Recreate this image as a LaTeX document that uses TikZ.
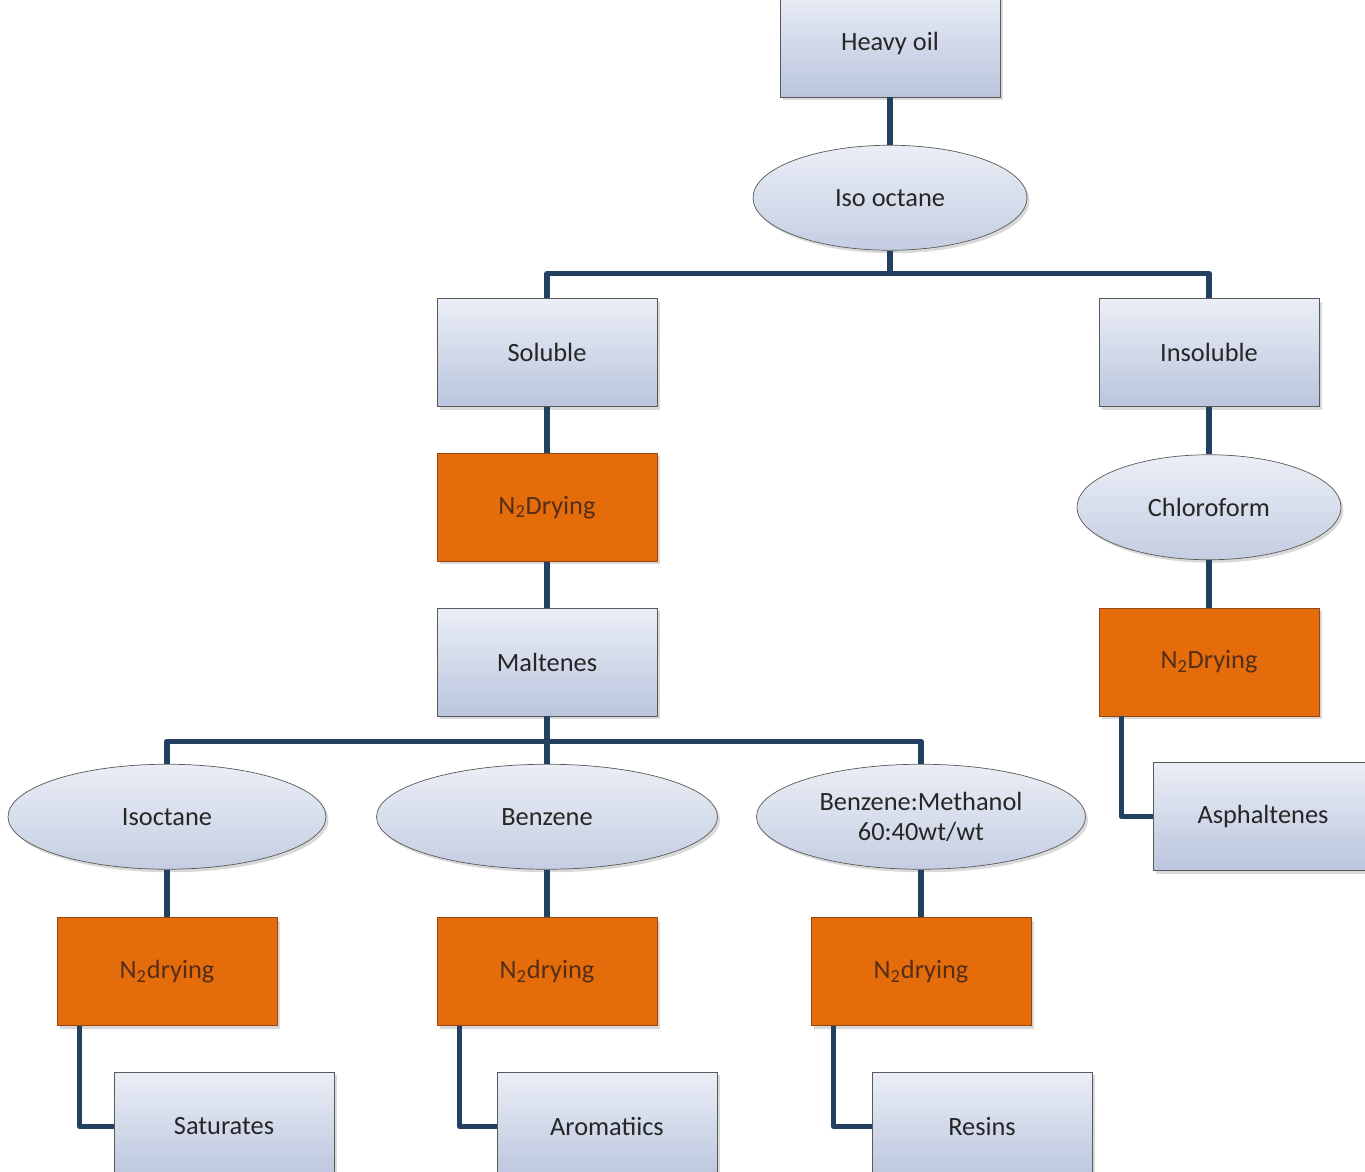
\documentclass[tikz,border=0pt]{standalone}
\usepackage{fontspec}
\setmainfont{Carlito}
\usetikzlibrary{positioning,shapes.geometric,shadows}

\definecolor{linkblue}{RGB}{36,64,97}
\definecolor{boxtop}{RGB}{234,238,246}
\definecolor{boxbottom}{RGB}{186,197,221}
\definecolor{dryorange}{RGB}{228,108,10}
\definecolor{dryedge}{RGB}{150,70,20}
\definecolor{drytext}{RGB}{85,45,25}

\tikzset{
  base/.style={font=\fontsize{15}{17}\selectfont, align=center,
    drop shadow={opacity=0.3, shadow xshift=0.05cm, shadow yshift=-0.06cm}},
  box/.style={base, rectangle, draw=gray!70!black, top color=boxtop, bottom color=boxbottom,
    text=black!85, minimum width=4.4cm, minimum height=2.16cm},
  drybox/.style={base, rectangle, draw=dryedge, fill=dryorange, text=drytext,
    minimum width=4.4cm, minimum height=2.16cm},
  oval/.style={base, ellipse, draw=gray!70!black, top color=boxtop, bottom color=boxbottom!85!white,
    text=black!85, minimum height=2.1cm, inner sep=0pt},
  link/.style={draw=linkblue, line width=3.1pt, line join=round}
}

\begin{document}
\begin{tikzpicture}[node distance=3.095cm]
                \useasboundingbox (0,0) rectangle (27.3,-23.44);
                \node [box] (heavy) at (17.8,-0.86) {Heavy oil};
                \node [oval, minimum width=5.48cm, below of = heavy] (iso) {Iso octane};
                \node [box, below of = iso, xshift=-6.86cm] (soluble) {Soluble};
                \node [box, below of = iso, xshift=6.38cm] (insoluble) {Insoluble};
                \node [drybox, below of = soluble] (dryL) {N\textsubscript{2}Drying};
                \node [box, below of = dryL] (malt) {Maltenes};
                \node [oval, minimum width=5.28cm, below of = insoluble] (chloro) {Chloroform};
                \node [drybox, below of = chloro] (dryR) {N\textsubscript{2}Drying};
                \node [box, below of = dryR, xshift=1.08cm] (asph) {Asphaltenes};
                \node [oval, minimum width=6.36cm, below of = malt, xshift=-7.6cm] (isoc) {Isoctane};
                \node [oval, minimum width=6.82cm, below of = malt] (benz) {Benzene};
                \node [oval, minimum width=6.58cm, below of = malt, xshift=7.48cm] (benzmeth) {Benzene:Methanol\\60:40wt/wt};
                \node [drybox, below of = isoc] (dry1) {N\textsubscript{2}drying};
                \node [drybox, below of = benz] (dry2) {N\textsubscript{2}drying};
                \node [drybox, below of = benzmeth] (dry3) {N\textsubscript{2}drying};
                \node [box, below of = dry1, xshift=1.14cm] (sat) {Saturates};
                \node [box, below of = dry2, xshift=1.2cm] (arom) {Aromatiics};
                \node [box, below of = dry3, xshift=1.22cm] (resins) {Resins};
                % buses
                \coordinate (busA) at ([yshift=-0.46cm]iso.south);
                \coordinate (busB) at ([yshift=-0.5cm]malt.south);
                \draw [link] (heavy) -- (iso) (iso) -- (busA);
                \draw [link] (soluble) |- (busA) -| (insoluble);
                \draw [link] (malt) -- (busB) (busB) -- (benz);
                \draw [link] (isoc) |- (busB) -| (benzmeth);
                \foreach \a/\b in {soluble/dryL, dryL/malt, insoluble/chloro, chloro/dryR, isoc/dry1, benz/dry2, benzmeth/dry3}
                    \draw [link] (\a) -- (\b);
                % elbows to products
                \foreach \a/\b in {dryR/asph, dry1/sat, dry2/arom, dry3/resins}
                    \draw [link] ([xshift=0.46cm]\a.south west) |- (\b);
            \end{tikzpicture}
\end{document}
